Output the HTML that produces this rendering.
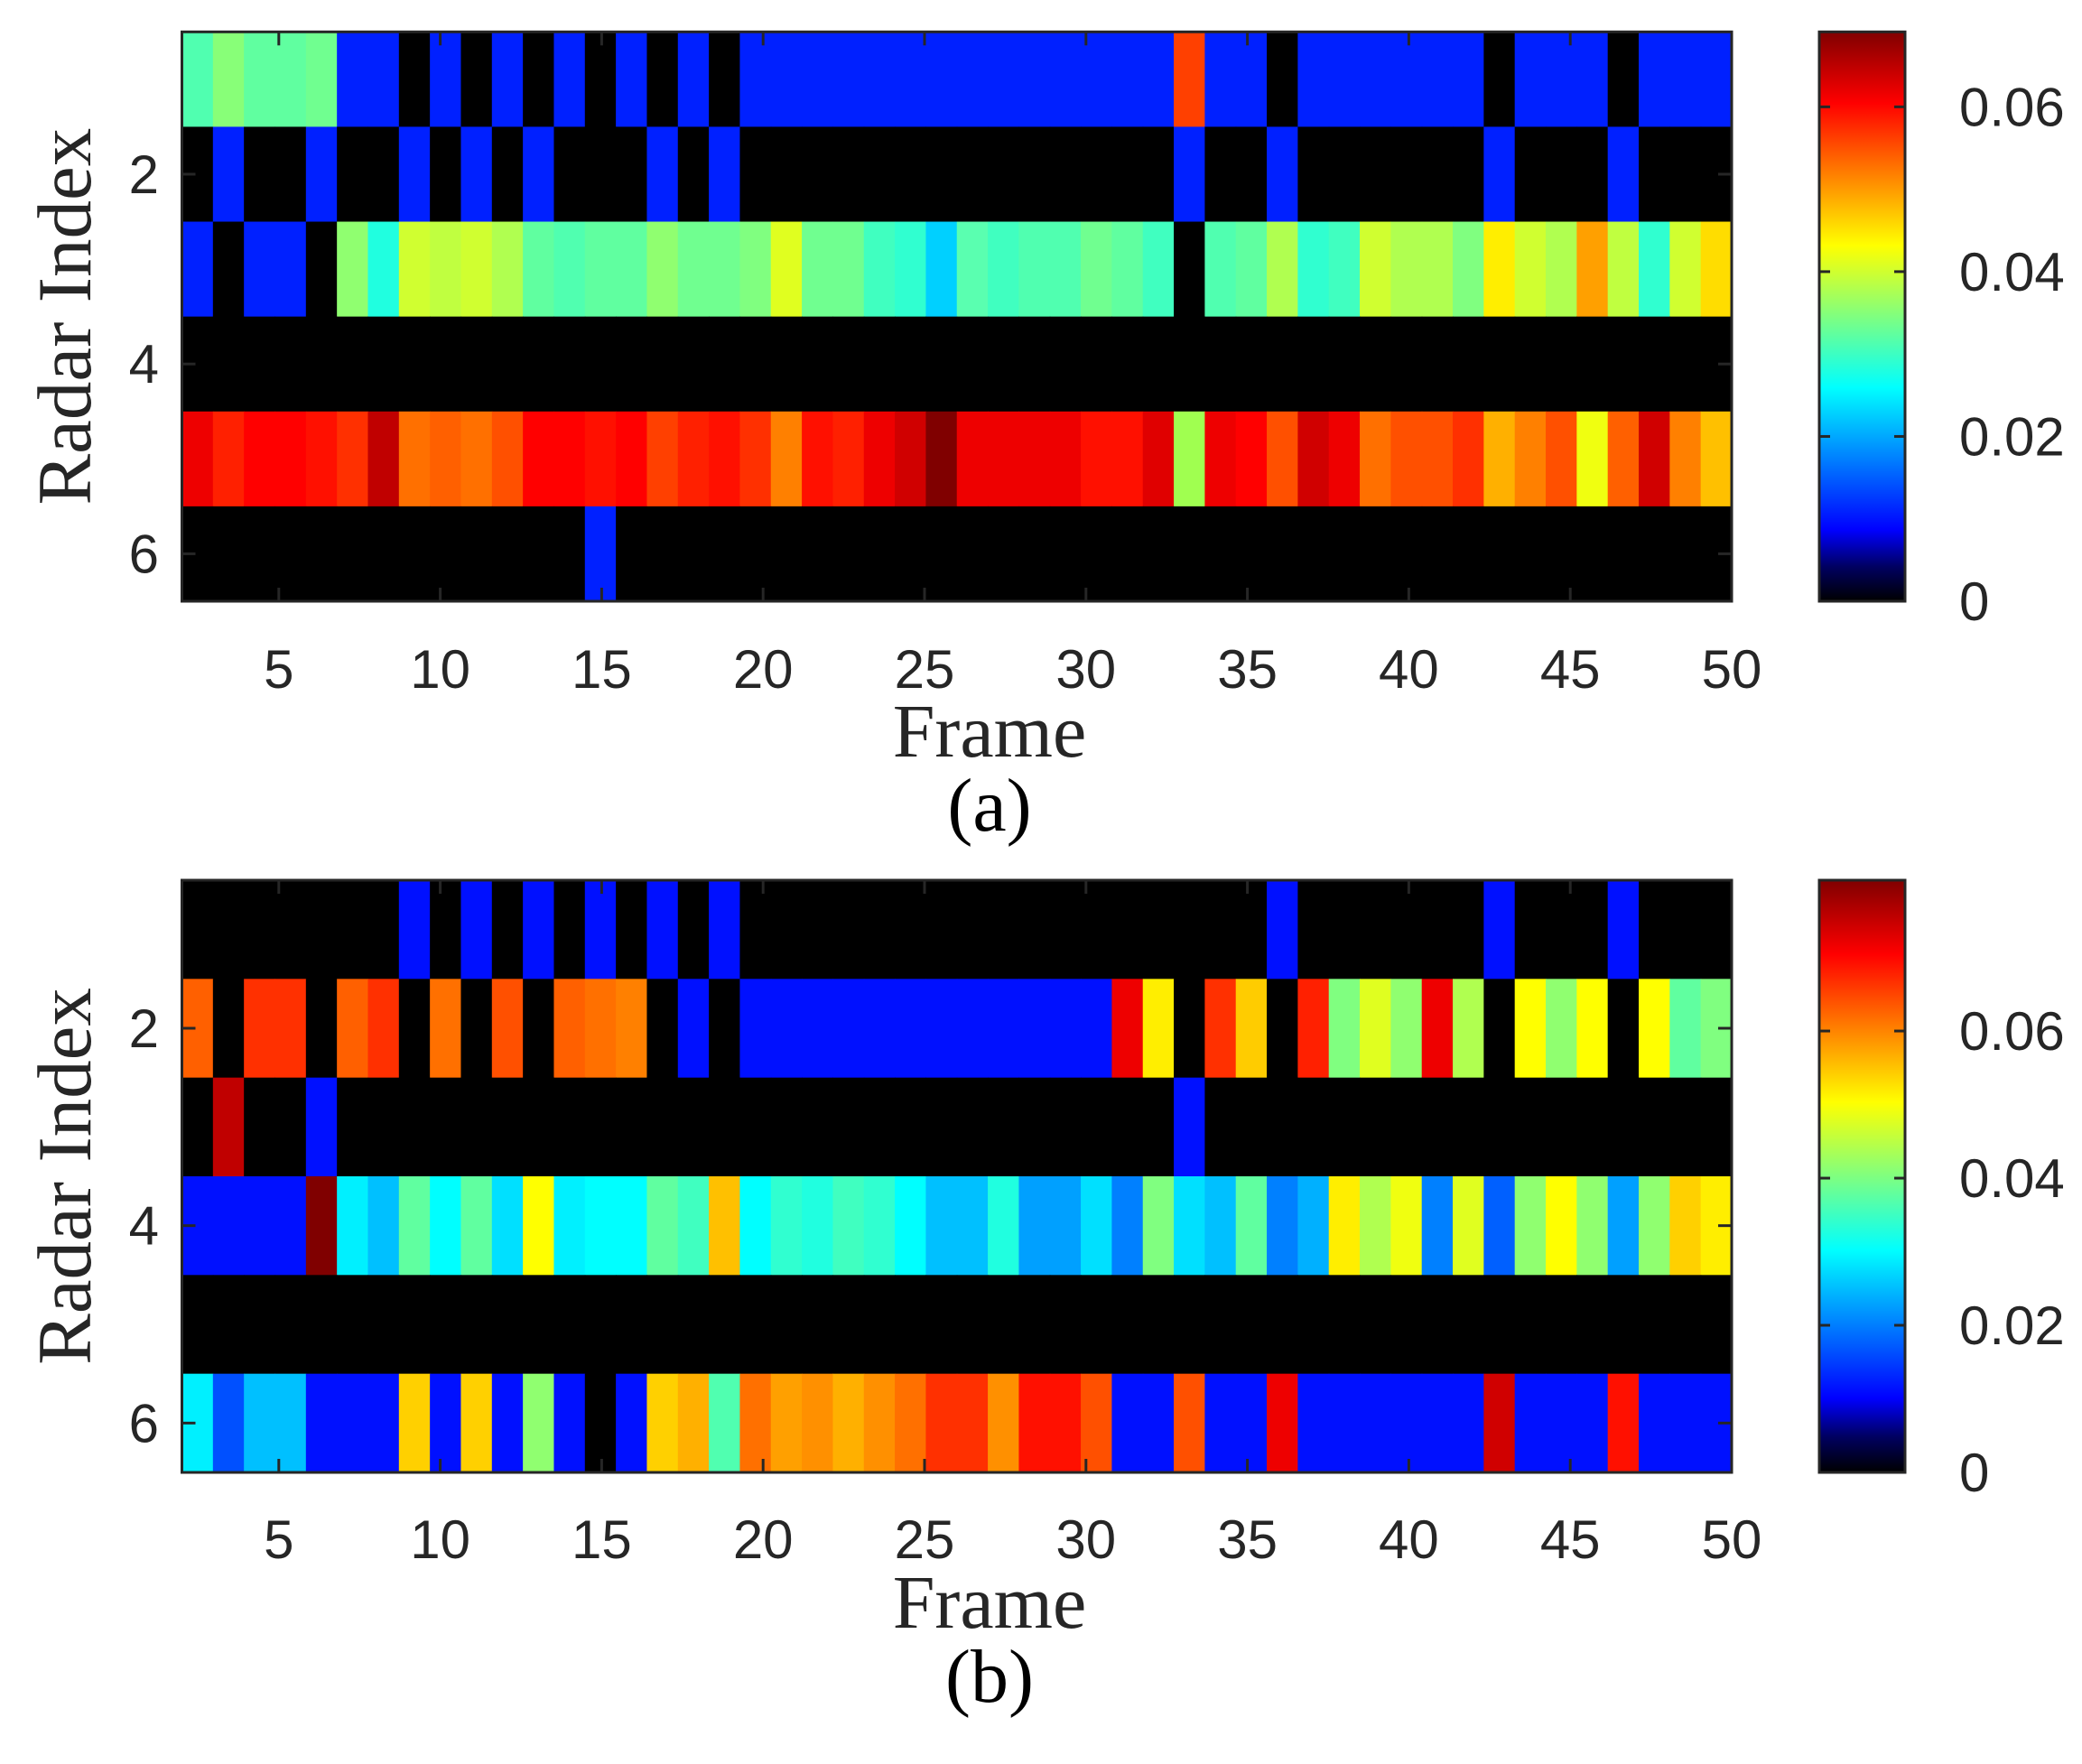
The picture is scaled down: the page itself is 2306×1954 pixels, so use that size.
<!DOCTYPE html>
<html><head><meta charset="utf-8">
<style>html,body{margin:0;padding:0;background:#fff}svg{display:block}</style></head>
<body>
<svg id="s" xmlns="http://www.w3.org/2000/svg" width="2306" height="1954" viewBox="0 0 2306 1954">
<defs>
<linearGradient id="jet" x1="0" y1="1" x2="0" y2="0">
<stop offset="0" stop-color="#000000"/>
<stop offset="0.06" stop-color="#000060"/>
<stop offset="0.125" stop-color="#0000ff"/>
<stop offset="0.375" stop-color="#00ffff"/>
<stop offset="0.625" stop-color="#ffff00"/>
<stop offset="0.875" stop-color="#ff0000"/>
<stop offset="1" stop-color="#800000"/>
</linearGradient>
</defs>
<rect width="2306" height="1954" fill="#fff"/>
<g id="g"></g>
</svg>
<script>
const K='#000',B='#0020ff',b='#0010ff';
function rep(c,n){return Array(n).fill(c);}
const A=[
[ '#50ffb0','#88ff78','#60ffa0','#60ffa0','#70ff90',B,B,K,B,K,B,K,B,K,B,K,B,K,B,B,B,B,B,B,B, B,B,B,B,B,B,B,'#ff4000',B,B,K,B,B,B,B,B,B,K,B,B,B,K,B,B,B],
[ K,B,K,K,B,K,K,B,K,B,K,B,K,K,K,B,K,B,K,K,K,K,K,K,K, K,K,K,K,K,K,K,B,K,K,B,K,K,K,K,K,K,B,K,K,K,B,K,K,K],
[ B,K,B,B,K,'#90ff70','#20ffe0','#d0ff30','#c0ff40','#d0ff30','#b0ff50','#60ffa0','#50ffb0','#60ffa0','#60ffa0','#90ff70','#70ff90','#70ff90','#80ff80','#e0ff20','#70ff90','#70ff90','#40ffc0','#30ffd0','#00d0ff',
  '#5affb0','#40ffc0','#50ffb0','#50ffb0','#70ff90','#60ffa0','#40ffc0',K,'#50ffb0','#60ffa0','#b0ff50','#30ffd0','#40ffc0','#d0ff30','#b0ff50','#b0ff50','#80ff80','#ffee00','#d0ff30','#b0ff50','#ffa000','#c0ff40','#30ffd0','#d0ff30','#ffdd00'],
rep(K,50),
[ '#ee0000','#ff2000','#ff0000','#ff0000','#ff1000','#ff3000','#c00000','#ff7000','#ff6000','#ff7000','#ff5000','#ff0000','#ff0000','#ff1000','#ff0000','#ff4000','#ff2000','#ff1000','#ff3000','#ff8000','#ff1000','#ff2000','#ee0000','#d00000','#800000',
  '#ee0000','#ee0000','#ee0000','#ee0000','#ff1000','#ff1000','#e00000','#a0ff50','#ee0000','#ff0000','#ff5000','#d00000','#ee0000','#ff7000','#ff5000','#ff5000','#ff3000','#ffb000','#ff8000','#ff5000','#f0ff10','#ff6000','#d00000','#ff8000','#ffc000'],
rep(K,50)
];
A[5][13]=B;
const Bm=[
rep(K,50),
[ '#ff6000',K,'#ff3000','#ff3000',K,'#ff6000','#ff3000',K,'#ff7000',K,'#ff5000',K,'#ff6000','#ff7000','#ff8000',K,b,K,b,b,b,b,b,b,b, b,b,b,b,b,'#ee0000','#ffee00',K,'#ff3000','#ffcc00',K,'#ff2000','#80ff80','#e0ff20','#90ff70','#ee0000','#b0ff50',K,'#ffff00','#90ff70','#ffff00',K,'#ffff00','#60ffa0','#80ff80'],
rep(K,50),
[ b,b,b,b,'#800000','#00f0ff','#00c0ff','#60ffa0','#00ffff','#60ffa0','#00e0ff','#ffff00','#00f0ff','#00ffff','#00ffff','#60ffa0','#40ffc0','#ffc000','#00ffff','#30ffd0','#20ffe0','#40ffc0','#30ffd0','#00ffff','#00c0ff',
  '#00c0ff','#20ffe0','#00a0ff','#00a0ff','#00e0ff','#0080ff','#80ff80','#00e0ff','#00c0ff','#60ffa0','#0080ff','#00b0ff','#ffee00','#b0ff50','#f0ff10','#0080ff','#e0ff20','#0060ff','#90ff70','#ffff00','#90ff70','#00a0ff','#90ff70','#ffd000','#ffee00'],
rep(K,50),
[ '#00f0ff','#0050ff','#00c0ff','#00c0ff',b,b,b,'#ffd000',b,'#ffd000',b,'#90ff70',b,K,b,'#ffd000','#ffb000','#50ffb0','#ff7000','#ffa000','#ff9000','#ffb000','#ff9000','#ff7000','#ff3000',
  '#ff3000','#ff9000','#ff1000','#ff1000','#ff5000',b,b,'#ff5000',b,b,'#ee0000',b,b,b,b,b,b,'#d00000',b,b,b,'#ff1000',b,b,b]
];
[7,9,11,13,15,17,35,42,46].forEach(i=>Bm[0][i]=b);
Bm[2][1]='#c00000';Bm[2][4]=b;Bm[2][32]=b;

const X0=201.5,X1=1918;
let h='';
const ff='font-family="Liberation Sans, Arial, sans-serif"';
const sf='font-family="Liberation Serif, Times New Roman, serif"';
function plot(M,y0,y1,cbTicks,cbMax,lbl,tickY,frameY,lblY){
  const cw=(X1-X0)/50,rh=(y1-y0)/6;
  for(let r=0;r<6;r++)for(let c=0;c<50;c++)
    h+=`<rect x="${(X0+c*cw).toFixed(2)}" y="${(y0+r*rh).toFixed(2)}" width="${(cw+0.6).toFixed(2)}" height="${(rh+0.6).toFixed(2)}" fill="${M[r][c]}"/>`;
  const xs=[5,10,15,20,25,30,35,40,45,50];
  xs.forEach((v,i)=>{const x=308.8+i*178.8;
    h+=`<line x1="${x}" y1="${y1}" x2="${x}" y2="${y1-15}" stroke="#262626" stroke-width="3"/><line x1="${x}" y1="${y0}" x2="${x}" y2="${y0+15}" stroke="#262626" stroke-width="3"/>`;
    h+=`<text x="${x}" y="${tickY}" ${ff} font-size="60" fill="#262626" text-anchor="middle">${v}</text>`;});
  [2,4,6].forEach(v=>{const y=y0+(v-0.5)*rh;
    h+=`<line x1="${X0}" y1="${y}" x2="${X0+15}" y2="${y}" stroke="#262626" stroke-width="3"/><line x1="${X1}" y1="${y}" x2="${X1-15}" y2="${y}" stroke="#262626" stroke-width="3"/>`;
    h+=`<text x="176" y="${y+21}" ${ff} font-size="60" fill="#262626" text-anchor="end">${v}</text>`;});
  h+=`<rect x="${X0}" y="${y0}" width="${X1-X0}" height="${y1-y0}" fill="none" stroke="#262626" stroke-width="3"/>`;
  h+=`<text transform="translate(100,${(y0+y1)/2}) rotate(-90)" ${sf} font-size="85" fill="#262626" text-anchor="middle">Radar Index</text>`;
  h+=`<text x="1096" y="${frameY}" ${sf} font-size="84" fill="#262626" text-anchor="middle">Frame</text>`;
  h+=`<text x="1096" y="${lblY}" ${sf} font-size="84" fill="#000" text-anchor="middle">${lbl}</text>`;
  h+=`<rect x="2015" y="${y0}" width="95" height="${y1-y0}" fill="url(#jet)" stroke="#262626" stroke-width="3"/>`;
  cbTicks.forEach(v=>{const y=y1-(v/cbMax)*(y1-y0);
    if(v>0)h+=`<line x1="2015" y1="${y}" x2="2027" y2="${y}" stroke="#262626" stroke-width="3"/><line x1="2110" y1="${y}" x2="2098" y2="${y}" stroke="#262626" stroke-width="3"/>`;
    h+=`<text x="2170" y="${y+21}" ${ff} font-size="60" fill="#262626">${v===0?'0':v.toFixed(2)}</text>`;});
}
plot(A,35.3,666,[0,0.02,0.04,0.06],0.0691,'(a)',762,838,920);
plot(Bm,975,1631,[0,0.02,0.04,0.06],0.0805,'(b)',1726,1803,1885);
document.getElementById('g').innerHTML=h;
</script>
</body></html>
